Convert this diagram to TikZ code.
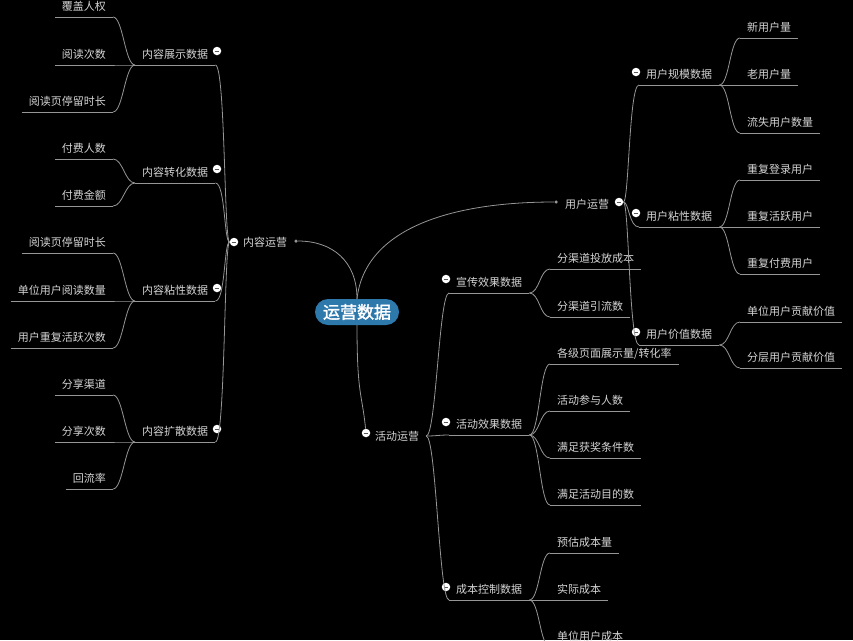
\documentclass[tikz,border=0pt]{standalone}
\usepackage{fontspec}
\setmainfont{Noto Sans CJK SC}[AutoFakeBold=2]
\definecolor{rootblue}{RGB}{46,121,172}
\definecolor{linegray}{RGB}{150,150,150}
\definecolor{txtgray}{RGB}{212,212,212}

\begin{document}
\begin{tikzpicture}[x=1pt, y=-1pt,
  root/.style={fill=rootblue, text=white, rounded corners=13pt, minimum width=84pt, minimum height=26pt, inner sep=0pt, font=\fontsize{17}{20}\selectfont\bfseries},
  topic/.style={text=txtgray, font=\fontsize{11}{13}\selectfont, inner xsep=7pt},
  sub/.style={text=txtgray, font=\fontsize{11}{13}\selectfont, inner xsep=7pt, inner ysep=4.5pt, text height=9pt, text depth=2pt,
    append after command={(\tikzlastnode.south west) edge[conn] (\tikzlastnode.south east)}},
  leaf/.style={sub},
  fold/.style={circle, fill=white, inner sep=0pt, minimum size=8.5pt,
    path picture={\draw[gray!70!black, line width=0.6pt] ([xshift=1.8pt]path picture bounding box.west) -- ([xshift=-1.8pt]path picture bounding box.east);}},
  dot/.style={circle, fill=linegray, inner sep=0pt, minimum size=3.5pt},
  conn/.style={draw=linegray, line width=0.8pt},
  br/.style={to path={.. controls +(#1,0) and +(-#1,0) .. (\tikztotarget)}},
  br/.default=10
]
\path[use as bounding box, fill=black] (0,0) rectangle (853,640);
\clip (0,0) rectangle (853,640);

% centre
\node[root] (root) at (357,312) {运营数据};

% first level
\node[topic] (nr)  at (265,242) {内容运营};
\node[dot]   (nrd) at (296,241) {};
\node[topic] (yh)  at (587,204) {用户运营};
\node[dot]   (yhd) at (556,202) {};
\node[topic] (hd)  at (397,436) {活动运营};

\draw[conn] (root.north) .. controls +(0,-38) and +(36,0) .. (nrd);
\draw[conn] (root.north) .. controls +(8,-70) and +(-106,0) .. (yhd);

% 内容运营 branch
\node[sub, anchor=south west] (nr1) at (135,65)  {内容展示数据};
\node[sub, anchor=south west] (nr2) at (135,183) {内容转化数据};
\node[sub, anchor=south west] (nr3) at (135,301) {内容粘性数据};
\node[sub, anchor=south west] (nr4) at (135,442) {内容扩散数据};

\node[leaf, anchor=south east] (nr1a) at (113,17)  {覆盖人权};
\node[leaf, anchor=south east] (nr1b) at (113,65)  {阅读次数};
\node[leaf, anchor=south east] (nr1d) at (113,112) {阅读页停留时长};
\node[leaf, anchor=south east] (nr2a) at (113,159) {付费人数};
\node[leaf, anchor=south east] (nr2b) at (113,206) {付费金额};
\node[leaf, anchor=south east] (nr3a) at (113,253) {阅读页停留时长};
\node[leaf, anchor=south east] (nr3b) at (113,301) {单位用户阅读数量};
\node[leaf, anchor=south east] (nr3d) at (113,348) {用户重复活跃次数};
\node[leaf, anchor=south east] (nr4a) at (113,395) {分享渠道};
\node[leaf, anchor=south east] (nr4b) at (113,442) {分享次数};
\node[leaf, anchor=south east] (nr4d) at (113,489) {回流率};

% 用户运营 branch
\node[sub, anchor=south west] (yh1) at (639,85)  {用户规模数据};
\node[sub, anchor=south west] (yh2) at (639,227) {用户粘性数据};
\node[sub, anchor=south west] (yh3) at (639,345) {用户价值数据};

\node[leaf, anchor=south west] (yh1a) at (740,38)  {新用户量};
\node[leaf, anchor=south west] (yh1b) at (740,85)  {老用户量};
\node[leaf, anchor=south west] (yh1d) at (740,133) {流失用户数量};
\node[leaf, anchor=south west] (yh2a) at (740,180) {重复登录用户};
\node[leaf, anchor=south west] (yh2b) at (740,227) {重复活跃用户};
\node[leaf, anchor=south west] (yh2d) at (740,274) {重复付费用户};
\node[leaf, anchor=south west] (yh3a) at (740,322) {单位用户贡献价值};
\node[leaf, anchor=south west] (yh3b) at (740,368) {分层用户贡献价值};

% 活动运营 branch
\node[sub, anchor=south west] (hd1) at (449,293) {宣传效果数据};
\node[sub, anchor=south west] (hd2) at (449,435) {活动效果数据};
\node[sub, anchor=south west] (hd3) at (449,600) {成本控制数据};

\node[leaf, anchor=south west] (hd1a) at (550,269) {分渠道投放成本};
\node[leaf, anchor=south west] (hd1b) at (550,317) {分渠道引流数};
\node[leaf, anchor=south west] (hd2a) at (550,364) {各级页面展示量/转化率};
\node[leaf, anchor=south west] (hd2b) at (550,411) {活动参与人数};
\node[leaf, anchor=south west] (hd2d) at (550,458) {满足获奖条件数};
\node[leaf, anchor=south west] (hd2e) at (550,505) {满足活动目的数};
\node[leaf, anchor=south west] (hd3a) at (550,553) {预估成本量};
\node[leaf, anchor=south west] (hd3b) at (550,600) {实际成本};
\node[leaf, anchor=south west] (hd3d) at (550,647) {单位用户成本};

% fold buttons
\node[fold] (nrc)  at (234,242) {};
\node[fold] (yhc)  at (619,202) {};
\node[fold] (hdc)  at (366,433) {};
\node[fold] (nr1c) at (217,51)  {};
\node[fold] (nr2c) at (217,169) {};
\node[fold] (nr3c) at (217,288) {};
\node[fold] (nr4c) at (217,429) {};
\node[fold] (yh1c) at (636,72)  {};
\node[fold] (yh2c) at (636,213) {};
\node[fold] (yh3c) at (636,332) {};
\node[fold] (hd1c) at (446,279) {};
\node[fold] (hd2c) at (446,422) {};
\node[fold] (hd3c) at (446,587) {};

% connectors
\draw[conn] (root.south) .. controls +(0,70) and +(-4,-40) .. (hdc);

\draw[conn] (nr1.south east) to[br] (nrc);
\draw[conn] (nr2.south east) to[br] (nrc);
\draw[conn] (nr3.south east) to[br] (nrc);
\draw[conn] (nr4.south east) to[br] (nrc);

\draw[conn] (nr1a.south east) to[br] (nr1.south west);
\draw[conn] (nr1b.south east) to[br] (nr1.south west);
\draw[conn] (nr1d.south east) to[br] (nr1.south west);
\draw[conn] (nr2a.south east) to[br] (nr2.south west);
\draw[conn] (nr2b.south east) to[br] (nr2.south west);
\draw[conn] (nr3a.south east) to[br] (nr3.south west);
\draw[conn] (nr3b.south east) to[br] (nr3.south west);
\draw[conn] (nr3d.south east) to[br] (nr3.south west);
\draw[conn] (nr4a.south east) to[br] (nr4.south west);
\draw[conn] (nr4b.south east) to[br] (nr4.south west);
\draw[conn] (nr4d.south east) to[br] (nr4.south west);

\draw[conn] (yhc) to[br] (yh1.south west);
\draw[conn] (yhc) to[br] (yh2.south west);
\draw[conn] (yhc) to[br] (yh3.south west);

\draw[conn] (yh1.south east) to[br] (yh1a.south west);
\draw[conn] (yh1.south east) to[br] (yh1b.south west);
\draw[conn] (yh1.south east) to[br] (yh1d.south west);
\draw[conn] (yh2.south east) to[br] (yh2a.south west);
\draw[conn] (yh2.south east) to[br] (yh2b.south west);
\draw[conn] (yh2.south east) to[br] (yh2d.south west);
\draw[conn] (yh3.south east) to[br] (yh3a.south west);
\draw[conn] (yh3.south east) to[br] (yh3b.south west);

\draw[conn] (hd.east) to[br] (hd1.south west);
\draw[conn] (hd.east) to[br] (hd2.south west);
\draw[conn] (hd.east) to[br] (hd3.south west);

\draw[conn] (hd1.south east) to[br] (hd1a.south west);
\draw[conn] (hd1.south east) to[br] (hd1b.south west);
\draw[conn] (hd2.south east) to[br] (hd2a.south west);
\draw[conn] (hd2.south east) to[br] (hd2b.south west);
\draw[conn] (hd2.south east) to[br] (hd2d.south west);
\draw[conn] (hd2.south east) to[br] (hd2e.south west);
\draw[conn] (hd3.south east) to[br] (hd3a.south west);
\draw[conn] (hd3.south east) to[br] (hd3b.south west);
\draw[conn] (hd3.south east) to[br] (hd3d.south west);

\end{tikzpicture}
\end{document}
